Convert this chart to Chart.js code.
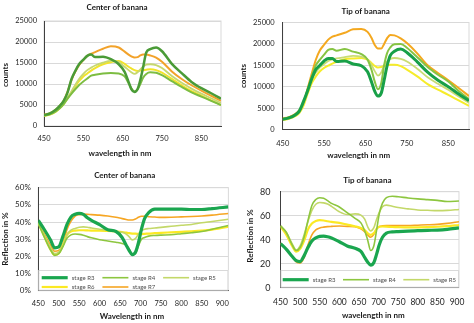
<!DOCTYPE html>
<html>
<head>
<meta charset="utf-8">
<script src="https://cdn.jsdelivr.net/npm/chart.js@4.4.1/dist/chart.umd.min.js"></script>
<style>
  html, body { margin: 0; padding: 0; background: #fff; }
  #wrap { position: relative; width: 474px; height: 323px; }
  canvas { position: absolute; }
</style>
</head>
<body>
<div id="wrap">
  <canvas id="countsCenter" width="237" height="160" style="left:0;top:0"></canvas>
  <canvas id="countsTip" width="237" height="160" style="left:237px;top:0"></canvas>
  <canvas id="reflCenter" width="237" height="163" style="left:0;top:160px"></canvas>
  <canvas id="reflTip" width="237" height="163" style="left:237px;top:160px"></canvas>
</div>
<script>
const stages = ['stage R3', 'stage R4', 'stage R5', 'stage R6', 'stage R7'];

// wavelengths (nm)
const wl = [450, 465, 480, 490, 500, 510, 520, 530, 540, 550, 560, 570, 580, 600, 620, 640, 655, 665, 672, 680,
            688, 695, 702, 710, 720, 735, 750, 775, 800, 825, 850, 875, 900];
// the reflection traces run a little past the 900 label
const wlReflCenter = [...wl.slice(0, -1), 915];
const wlReflTip = [...wl.slice(0, -1), 905];

const countTicks = [450, 550, 650, 750, 850];
const reflTicks = [450, 500, 550, 600, 650, 700, 750, 800, 850, 900];

// counts, center of banana
const centerR3 = [2600, 3000, 3900, 4800, 6000, 8000, 11200, 13200, 14800, 15800, 16700, 17000, 16400, 16500, 15900, 14700, 12900, 10500, 8800, 8100,
                  8800, 11000, 14000, 17500, 18300, 18700, 17800, 14800, 12600, 10500, 9000, 7800, 6500];
const centerR4 = [2500, 2800, 3500, 4200, 5200, 6500, 7700, 8800, 9800, 10600, 11300, 12000, 12200, 12500, 12600, 12500, 11800, 10200, 9000, 8200,
                  8700, 10000, 11500, 12400, 12800, 12700, 12100, 10700, 9300, 8000, 7000, 6000, 5000];
const centerR5 = [2500, 2800, 3500, 4300, 5400, 6900, 8300, 9900, 11300, 12400, 13300, 13900, 14400, 15100, 15500, 15200, 14100, 13300, 12800, 12400,
                  12800, 13500, 14100, 14600, 14700, 14500, 13800, 11900, 10300, 8900, 7700, 6600, 5500];
const centerR6 = [2400, 2700, 3400, 4200, 5200, 6600, 8000, 9500, 10800, 11800, 12500, 13200, 13800, 14700, 15200, 15500, 14800, 14100, 13700, 13300,
                  13100, 13200, 13300, 13400, 13500, 13300, 12700, 11200, 9700, 8300, 7200, 6100, 5000];
const centerR7 = [2700, 3000, 3900, 4800, 6000, 8200, 11000, 13000, 14600, 15700, 16700, 17200, 17600, 18400, 19000, 18700, 17700, 17000, 16600, 16300,
                  16400, 16800, 17000, 17000, 16800, 16300, 15300, 13000, 11200, 9700, 8400, 7200, 6000];

// counts, tip of banana
const tipR3 = [2400, 2700, 3400, 4300, 6500, 9000, 11800, 14000, 15000, 16000, 16600, 16600, 15900, 16000, 15300, 14900, 13500, 11000, 9000, 7800,
               8500, 11500, 14800, 17300, 18300, 18800, 18000, 15800, 13400, 11500, 10000, 8300, 6700];
const tipR4 = [2500, 2800, 3400, 4300, 6200, 9200, 12300, 15000, 16300, 17500, 18600, 18800, 18400, 18800, 18200, 17600, 16300, 13800, 11300, 9400,
               10800, 15000, 17800, 19200, 19900, 20000, 19100, 16900, 14600, 12800, 11200, 9000, 7100];
const tipR5 = [2300, 2600, 3300, 4100, 6000, 9000, 11800, 13300, 14500, 15300, 16000, 16400, 16600, 16900, 17200, 17000, 16400, 15000, 13700, 12600,
               13300, 15000, 15900, 16500, 16700, 16500, 15900, 14200, 12200, 10700, 9300, 7700, 6200];
const tipR6 = [2200, 2500, 3100, 3800, 5500, 8300, 10800, 12400, 13600, 14400, 14900, 15400, 15800, 16400, 16600, 16700, 16300, 15500, 14900, 14500,
               14600, 14900, 15000, 15100, 15100, 14800, 14000, 12400, 10600, 9300, 8100, 6800, 5500];
const tipR7 = [2600, 2900, 3600, 4500, 6200, 9500, 13000, 16300, 18500, 19800, 21000, 21700, 22000, 22600, 23400, 23500, 22800, 21300, 19800, 18900,
               18900, 20000, 21300, 22100, 22000, 21300, 20200, 17800, 15000, 13200, 11500, 9700, 7800];

// reflection %, center of banana
const reflCenterR3 = [41, 35.5, 29.5, 25, 25.5, 31.5, 38.5, 43, 44.5, 45, 44.5, 42.5, 41, 38.5, 35.5, 34.5, 31, 26.5, 23.5, 21,
                      22.5, 28, 35.5, 42, 45.5, 47.5, 47.5, 47.5, 47.5, 47.3, 47.3, 47.8, 48.8];
const reflCenterR4 = [39.2, 31, 23.7, 20.6, 21.5, 25.5, 30.5, 32.5, 33, 32.8, 32.3, 31.5, 30.8, 29.7, 29, 28.2, 27.5, 26.5, 24.5, 21,
                      21.8, 26, 29.8, 31, 31.8, 32.2, 32.4, 32.6, 33.2, 33.8, 34.5, 35.8, 38];
const reflCenterR5 = [39.3, 32, 25, 21.6, 22.5, 26, 32.5, 35.3, 36.3, 37, 37.2, 37, 36.5, 35.8, 35.2, 34.6, 34, 33, 31.5, 29.6,
                      30.5, 33, 35, 35.8, 36.2, 36.5, 36.9, 37.5, 38.1, 38.6, 39.6, 40.3, 41.6];
const reflCenterR6 = [39.6, 31.5, 24, 20.9, 21.8, 26.5, 32.5, 34.5, 35, 35.2, 35.2, 35.1, 35, 35, 34.8, 34.5, 34.2, 33.8, 33.5, 33.3,
                      33.2, 33.1, 33, 33.1, 33.3, 33.5, 33.7, 34, 34.3, 34.6, 35, 35.6, 37.3];
const reflCenterR7 = [39.5, 33, 26.5, 23, 23.5, 27, 35.5, 40.5, 43.5, 44.3, 44.6, 44.5, 44.3, 44, 43.5, 42.8, 42, 41.5, 41.2, 41.2,
                      41.8, 42.8, 43.4, 43.3, 43.1, 42.9, 42.7, 42.8, 43, 43.2, 43.5, 44, 45];

// reflection %, tip of banana
const reflTipR3 = [36.8, 32, 26, 22.5, 21.8, 26.5, 33.5, 39, 41.6, 42.8, 43, 42.5, 41.5, 38.3, 34.8, 32.8, 30.3, 25, 21.5, 18.8,
                   21, 28, 36, 42, 45.5, 46.5, 46.8, 47.2, 47.5, 47.8, 48, 48.6, 49.8];
const reflTipR4 = [51.5, 46, 35.5, 31, 33.5, 42, 56, 68.5, 73.5, 75, 74.5, 72.5, 70.3, 67.3, 62.5, 57.8, 54, 47, 40, 31,
                   35, 48, 62, 70.5, 75, 76.2, 75.8, 74.8, 74, 73.4, 72.8, 71.8, 72.3];
const reflTipR5 = [51.5, 46, 36.5, 31.4, 34.8, 44, 55, 64.5, 69.5, 71, 70.7, 69.7, 67.8, 63.3, 61, 61.5, 60.5, 57, 51, 47.3,
                   50, 57, 63, 67.5, 68.8, 67.8, 66.8, 65.7, 64.8, 64.5, 64.2, 64.4, 65.2];
const reflTipR6 = [51, 44, 34.5, 30, 32.3, 39, 48.5, 53.5, 55.5, 56.3, 56, 55.4, 54.8, 54, 52.6, 51.2, 49.8, 48, 45.5, 44,
                   45.5, 49, 50.8, 51, 50.9, 50.6, 50.4, 50.2, 50.3, 50.5, 50.8, 51.3, 52.2];
const reflTipR7 = [37, 32, 26, 21.5, 20.6, 25, 35.5, 44, 48.2, 49.8, 50.5, 50.9, 51.1, 51.4, 51.1, 50.8, 49, 46.5, 44, 42,
                   44.5, 49, 51, 51.5, 51.7, 51.7, 51.7, 51.8, 52.1, 52.4, 52.8, 53.6, 55];

const FONT = 'Lato';
const INK = '#1a1a1a';
const TICK = '#262626';

// light frame round the plot area, axes are drawn on top of it
const frame = {
  id: 'frame',
  beforeDraw(chart) {
    const {ctx, chartArea: a} = chart;
    ctx.save();
    ctx.strokeStyle = '#d9d9d9';
    ctx.lineWidth = 1;
    ctx.strokeRect(a.left, a.top, a.right - a.left, a.bottom - a.top);
    ctx.restore();
  }
};

// chart title and axis titles
const panelText = {
  id: 'panelText',
  afterDraw(chart, args, o) {
    const ctx = chart.ctx;
    ctx.save();
    ctx.fillStyle = INK;
    ctx.textAlign = 'center';
    ctx.textBaseline = 'middle';
    ctx.font = 'bold 8px ' + FONT;
    ctx.fillText(o.title, o.titleAt[0], o.titleAt[1]);
    ctx.fillText(o.xTitle, o.xTitleAt[0], o.xTitleAt[1]);
    ctx.translate(o.yTitleAt[0], o.yTitleAt[1]);
    ctx.rotate(-Math.PI / 2);
    ctx.fillText(o.yTitle, 0, 0);
    ctx.restore();
  }
};

// legend box sitting inside the bottom of the plot
const stageKey = {
  id: 'stageKey',
  afterDatasetsDraw(chart, args, o) {
    if (!o.rows) return;
    const {ctx, chartArea: a} = chart;
    const ds = chart.data.datasets;
    const top = a.bottom - o.height;
    ctx.save();
    ctx.fillStyle = '#fff';
    ctx.fillRect(a.left + 1, top, a.right - a.left - 1, o.height - 1);
    ctx.strokeStyle = '#d9d9d9';
    ctx.lineWidth = 1;
    ctx.strokeRect(a.left + 0.5, top + 0.5, a.right - a.left - 1, o.height - 1);
    ctx.font = '6px ' + FONT;
    ctx.textBaseline = 'middle';
    o.rows.forEach((row, r) => {
      row.forEach((idx, c) => {
        const x = a.left + o.x0 + c * o.colW;
        const y = top + o.y0 + r * o.rowH;
        ctx.strokeStyle = ds[idx].borderColor;
        ctx.lineWidth = ds[idx].borderWidth;
        ctx.beginPath();
        ctx.moveTo(x, y);
        ctx.lineTo(x + 26, y);
        ctx.stroke();
        ctx.fillStyle = '#4d4d4d';
        ctx.fillText(ds[idx].label, x + 30, y);
      });
    });
    ctx.restore();
  }
};

function panel(id, o) {
  const canvas = document.getElementById(id);
  const W = canvas.width, H = canvas.height;
  return new Chart(canvas, {
    type: 'line',
    data: {
      datasets: o.series.map((vals, i) => ({
        label: stages[i],
        data: o.wl.map((x, k) => ({x: x, y: vals[k]})),
        borderColor: o.colors[i],
        borderWidth: o.widths[i],
        pointRadius: 0,
        tension: 0.4,
        cubicInterpolationMode: 'monotone',
        fill: false
      }))
    },
    options: {
      responsive: false,
      animation: false,
      devicePixelRatio: 1,
      layout: {padding: {top: o.area.top, right: W - o.area.right, bottom: 0, left: 0}},
      plugins: {
        legend: {display: false},
        tooltip: {enabled: false},
        panelText: o.text,
        stageKey: o.key || {}
      },
      scales: {
        x: {
          type: 'linear',
          min: o.xMin,
          max: o.xMax,
          afterBuildTicks: s => { s.ticks = o.xTicks.map(v => ({value: v})); },
          afterFit: s => { s.height = H - o.area.bottom; },
          grid: {display: false, drawTicks: false},
          border: {color: '#404040'},
          ticks: {
            padding: o.xPad, color: TICK, maxRotation: 0, autoSkip: false,
            font: {family: FONT, size: o.xSize},
            callback: v => String(v)
          }
        },
        y: {
          min: o.yMin,
          max: o.yMax,
          afterFit: s => { s.width = o.area.left; },
          grid: {color: '#d9d9d9', drawTicks: false},
          border: {color: '#404040'},
          ticks: {
            stepSize: o.yStep, padding: o.yPad, color: TICK,
            font: {family: FONT, size: o.ySize},
            callback: o.yFmt
          }
        }
      }
    },
    plugins: [frame, stageKey, panelText]
  });
}

const plainNum = v => String(v);

panel('countsCenter', {
  wl: wl, xMin: 450, xMax: 900, xTicks: countTicks,
  series: [centerR3, centerR4, centerR5, centerR6, centerR7],
  colors: ['#4a9b37', '#7dbd42', '#c6d86f', '#f2e32a', '#f2a22a'],
  widths: [2.5, 2, 1.8, 2, 2],
  area: {left: 44, right: 221, top: 21, bottom: 126},
  yMin: 0, yMax: 25000, yStep: 5000, yFmt: plainNum,
  xSize: 7.5, ySize: 7.5, xPad: 8.5, yPad: 7,
  text: {title: 'Center of banana', titleAt: [117, 7],
         xTitle: 'wavelength in nm', xTitleAt: [120, 153],
         yTitle: 'counts', yTitleAt: [5, 75]}
});

panel('countsTip', {
  wl: wl, xMin: 450, xMax: 900, xTicks: countTicks,
  series: [tipR3, tipR4, tipR5, tipR6, tipR7],
  colors: ['#18a048', '#86c443', '#c9dc73', '#f6ec2a', '#f4a81f'],
  widths: [3, 2, 1.8, 2, 2],
  area: {left: 45.7, right: 232, top: 22.5, bottom: 129.5},
  yMin: 0, yMax: 25000, yStep: 5000, yFmt: plainNum,
  xSize: 7.5, ySize: 7.5, xPad: 9.5, yPad: 8,
  text: {title: 'Tip of banana', titleAt: [128.7, 11.7],
         xTitle: 'wavelength in nm', xTitleAt: [121.7, 155],
         yTitle: 'counts', yTitleAt: [6.7, 76]}
});

panel('reflCenter', {
  wl: wlReflCenter, xMin: 450, xMax: 915, xTicks: reflTicks,
  series: [reflCenterR3, reflCenterR4, reflCenterR5, reflCenterR6, reflCenterR7],
  colors: ['#1aa64f', '#8dc63f', '#c3d869', '#fbe923', '#f6a623'],
  widths: [3.2, 1.6, 1.6, 2.2, 1.6],
  area: {left: 38.3, right: 230, top: 27.7, bottom: 130.7},
  yMin: 0, yMax: 60, yStep: 10, yFmt: v => v + '%',
  xSize: 7.5, ySize: 8, xPad: 8, yPad: 7.5,
  text: {title: 'Center of banana', titleAt: [124.7, 15],
         xTitle: 'Wavelength in nm', xTitleAt: [132, 156],
         yTitle: 'Reflection in %', yTitleAt: [5, 79]},
  key: {rows: [[0, 1, 2], [3, 4]], height: 20.7, x0: 3.4, y0: 7.7, rowH: 9.3, colW: 60.7}
});

panel('reflTip', {
  wl: wlReflTip, xMin: 450, xMax: 905, xTicks: reflTicks,
  series: [reflTipR3, reflTipR4, reflTipR5, reflTipR6, reflTipR7],
  colors: ['#1aa64f', '#8dc63f', '#c3d869', '#fbe923', '#f6a623'],
  widths: [3.2, 1.6, 1.6, 2.2, 1.6],
  area: {left: 43.5, right: 229.5, top: 31.7, bottom: 127.7},
  yMin: 0, yMax: 80, yStep: 10, yFmt: plainNum,
  xSize: 8.5, ySize: 9, xPad: 9.5, yPad: 10,
  text: {title: 'Tip of banana', titleAt: [130.3, 20],
         xTitle: 'wavelength in nm', xTitleAt: [136.3, 155],
         yTitle: 'Reflection in %', yTitleAt: [13.3, 76]},
  key: {rows: [[0, 1, 2]], height: 17.7, x0: 2.2, y0: 9.7, rowH: 9.3, colW: 60.3}
});
</script>
</body>
</html>
